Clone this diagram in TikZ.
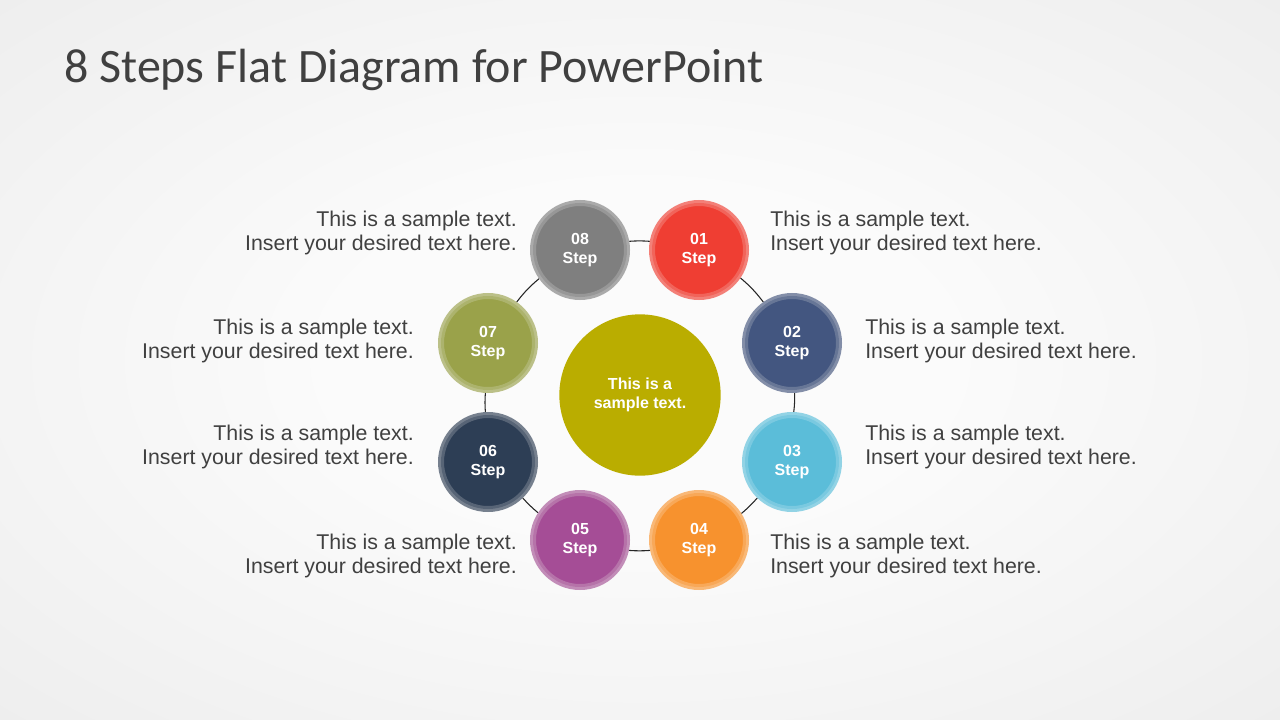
\documentclass[tikz,border=0pt]{standalone}
\usepackage{fontspec}
\setmainfont{Liberation Sans}
\newfontfamily\titlefont{Carlito}
\usetikzlibrary{positioning,backgrounds}

\definecolor{txtgray}{HTML}{404040}
\definecolor{bgin}{HTML}{FBFBFB}
\definecolor{bgout}{HTML}{E6E6E6}
\definecolor{centerfill}{HTML}{BAAD00}
\definecolor{fillA}{HTML}{EF3E33}\definecolor{ringA}{HTML}{F26B62}
\definecolor{fillB}{HTML}{435680}\definecolor{ringB}{HTML}{6E7C9A}
\definecolor{fillC}{HTML}{5BBDD9}\definecolor{ringC}{HTML}{80CCE2}
\definecolor{fillD}{HTML}{F7922E}\definecolor{ringD}{HTML}{F9AD60}
\definecolor{fillE}{HTML}{A54D96}\definecolor{ringE}{HTML}{B97AAD}
\definecolor{fillF}{HTML}{2D3E55}\definecolor{ringF}{HTML}{5F6B7C}
\definecolor{fillG}{HTML}{9AA24A}\definecolor{ringG}{HTML}{B0B674}
\definecolor{fillH}{HTML}{7F7F7F}\definecolor{ringH}{HTML}{9C9C9C}

\pgfdeclareradialshading{slidebg}{\pgfpoint{0bp}{0bp}}{color(0bp)=(bgin); color(12bp)=(bgin); color(50bp)=(bgout)}

\begin{document}
\begin{tikzpicture}[
      x=0.75pt, y=0.75pt,
      stepnode/.style 2 args={
        circle,
        minimum size=70.5pt,
        inner sep=0pt,
        line width=4.5pt,
        fill=#1,
        draw=#2,
        draw opacity=0.85,
        text=white,
        align=center,
        font=\bfseries\fontsize{12}{14.4}\selectfont,
      },
      hub/.style={
        circle,
        minimum size=121pt,
        inner sep=0pt,
        fill=centerfill,
        text=white,
        align=center,
        font=\bfseries\fontsize{12}{14.4}\selectfont,
      },
      note/.style={
        inner sep=0pt,
        text=txtgray,
        font=\fontsize{16}{18}\selectfont,
      },
      link/.style={
        line width=0.8pt,
        black!85,
      },
    ]
    \useasboundingbox (0,0) rectangle (1280,-720);
    \coordinate (hub) at (640,-395);
    \coordinate (s1) at (699,-250);
    \coordinate (s2) at (792,-343);
    \coordinate (s3) at (792,-462);
    \coordinate (s4) at (699,-540);
    \coordinate (s5) at (580,-540);
    \coordinate (s6) at (488,-462);
    \coordinate (s7) at (488,-343);
    \coordinate (s8) at (580,-250);
    \node[anchor=base west, inner sep=0pt, text=txtgray, font=\titlefont\fontsize{36}{42}\selectfont] (title) at (64,-83) {8 Steps Flat Diagram for PowerPoint};
    \node[hub] (hub-node) at (hub) {This is a\\sample text.};
    \node[stepnode={fillA}{ringA}] (s1-node) at (s1) {01\\Step};
    \node[stepnode={fillB}{ringB}] (s2-node) at (s2) {02\\Step};
    \node[stepnode={fillC}{ringC}] (s3-node) at (s3) {03\\Step};
    \node[stepnode={fillD}{ringD}] (s4-node) at (s4) {04\\Step};
    \node[stepnode={fillE}{ringE}] (s5-node) at (s5) {05\\Step};
    \node[stepnode={fillF}{ringF}] (s6-node) at (s6) {06\\Step};
    \node[stepnode={fillG}{ringG}] (s7-node) at (s7) {07\\Step};
    \node[stepnode={fillH}{ringH}] (s8-node) at (s8) {08\\Step};
    \node[note, anchor=west, align=left]  (n1) at (770,-233) {This is a sample text.\\Insert your desired text here.};
    \node[note, anchor=west, align=left]  (n2) at (865,-341) {This is a sample text.\\Insert your desired text here.};
    \node[note, anchor=west, align=left]  (n3) at (865,-447) {This is a sample text.\\Insert your desired text here.};
    \node[note, anchor=west, align=left]  (n4) at (770,-556) {This is a sample text.\\Insert your desired text here.};
    \node[note, anchor=east, align=right] (n5) at (517,-556) {This is a sample text.\\Insert your desired text here.};
    \node[note, anchor=east, align=right] (n6) at (414,-447) {This is a sample text.\\Insert your desired text here.};
    \node[note, anchor=east, align=right] (n7) at (414,-341) {This is a sample text.\\Insert your desired text here.};
    \node[note, anchor=east, align=right] (n8) at (517,-233) {This is a sample text.\\Insert your desired text here.};
    \begin{scope}[on background layer]
      \shade[shading=slidebg] (0,0) rectangle (1280,-720);
      % arcs of one ring round the hub
      \draw[link] (s8-node.10)   to[bend left=4] (s1-node.170);
      \draw[link] (s1-node.-34)  to[bend left=6] (s2-node.125);
      \draw[link] (s2-node.-87)  to[bend left=4] (s3-node.88);
      \draw[link] (s3-node.-134) to[bend left=4] (s4-node.32);
      \draw[link] (s4-node.-168) to[bend left=4] (s5-node.-12);
      \draw[link] (s5-node.147)  to[bend left=4] (s6-node.-46);
      \draw[link] (s6-node.93)   to[bend left=4] (s7-node.-93);
      \draw[link] (s7-node.55)   to[bend left=6] (s8-node.-145);
    \end{scope}
  \end{tikzpicture}
\end{document}
